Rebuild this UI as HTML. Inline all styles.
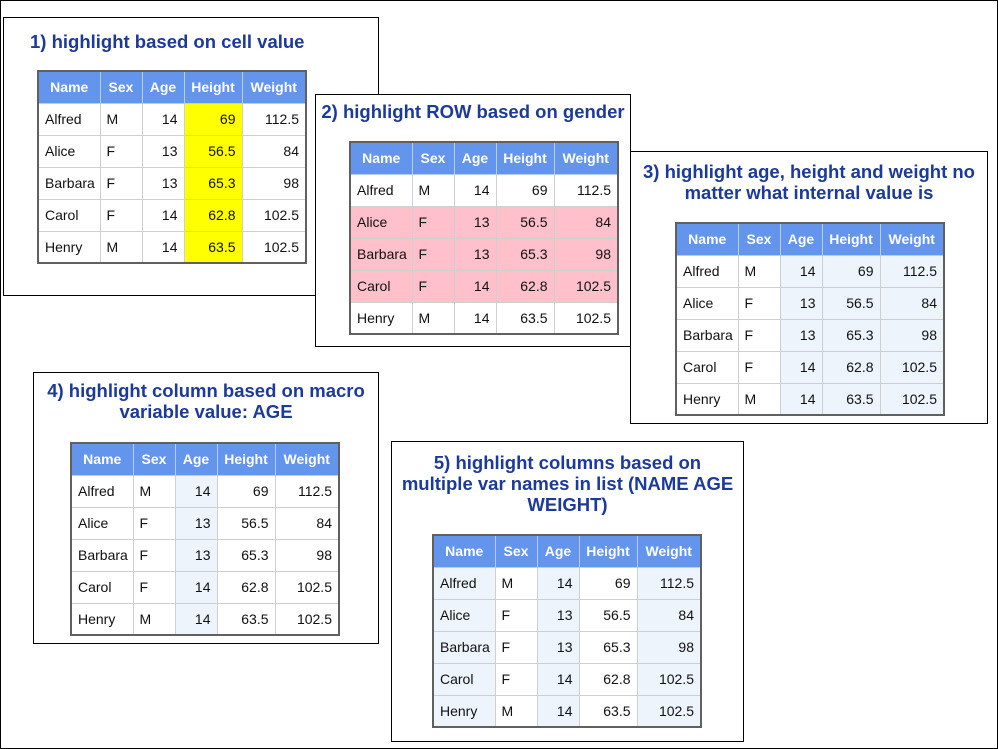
<!DOCTYPE html>
<html><head><style>
html,body{margin:0;padding:0;}
body{width:998px;height:749px;position:relative;background:#fff;overflow:hidden;font-family:"Liberation Sans",Arial,sans-serif;}
.frame{position:absolute;left:0;top:0;width:996px;height:747px;border:1px solid #000;}
.panel{position:absolute;background:#fff;border:1px solid #000;}
.title{position:absolute;font-weight:bold;font-size:18.5px;color:#1c3a9a;line-height:21px;text-align:center;white-space:nowrap;}
table{position:absolute;border-collapse:collapse;border:2px solid #606060;background:#fff;font-size:14px;color:#111;table-layout:fixed;width:268px;}
td,th{border:1px solid #cfcfcf;height:32px;padding:0 6px;box-sizing:border-box;overflow:hidden;white-space:nowrap;}
th{background:#6495ed;color:#fff;font-weight:bold;border-color:#b8ccf5;padding:0 3px;}
td.n{text-align:right;}
td.y{background:#ffff00;}
tr.p td{background:#ffc0cb;}
td.b{background:#edf4fc;}
</style></head><body>
<div class="frame"></div>
<div class="panel" style="left:3px;top:17px;width:374px;height:277px;"><div class="title" style="left:26px;top:13px;text-align:left">1) highlight based on cell value</div></div>
<div class="panel" style="left:315px;top:94px;width:314px;height:251px;"><div class="title" style="left:0;width:314px;top:6px;">2) highlight ROW based on gender</div></div>
<div class="panel" style="left:630px;top:151px;width:356px;height:271px;"><div class="title" style="left:0;width:356px;top:9px;">3) highlight age, height and weight no<br>matter what internal value is</div></div>
<div class="panel" style="left:33px;top:372px;width:344px;height:270px;"><div class="title" style="left:0;width:344px;top:7px;">4) highlight column based on macro<br>variable value: AGE</div></div>
<div class="panel" style="left:391px;top:441px;width:351px;height:299px;"><div class="title" style="left:0;width:351px;top:10px;">5) highlight columns based on<br>multiple var names in list (NAME AGE<br>WEIGHT)</div></div>
<div id="t"></div>
<script>
var rows=[["Alfred","M",14,69,112.5],["Alice","F",13,56.5,84],["Barbara","F",13,65.3,98],["Carol","F",14,62.8,102.5],["Henry","M",14,63.5,102.5]];
var w=[62,42,42,58,64];
function mk(x,y,cls,pink){
 var h='<table style="left:'+x+'px;top:'+y+'px"><tr>';
 ["Name","Sex","Age","Height","Weight"].forEach(function(c,i){h+='<th style="width:'+w[i]+'px">'+c+'</th>';});
 h+='</tr>';
 rows.forEach(function(r){
  h+='<tr'+(pink&&r[1]=="F"?' class="p"':'')+'>';
  r.forEach(function(v,i){var c=(i>=2?'n ':'')+(cls[i]||'');h+='<td class="'+c+'">'+v+'</td>';});
  h+='</tr>';
 });
 return h+'</table>';
}
document.getElementById('t').innerHTML=
 mk(37,70,{3:'y'})+
 mk(349,141,{},true)+
 mk(675,222,{2:'b',3:'b',4:'b'})+
 mk(70,442,{2:'b'})+
 mk(432,534,{0:'b',2:'b',4:'b'});
</script>
</body></html>
